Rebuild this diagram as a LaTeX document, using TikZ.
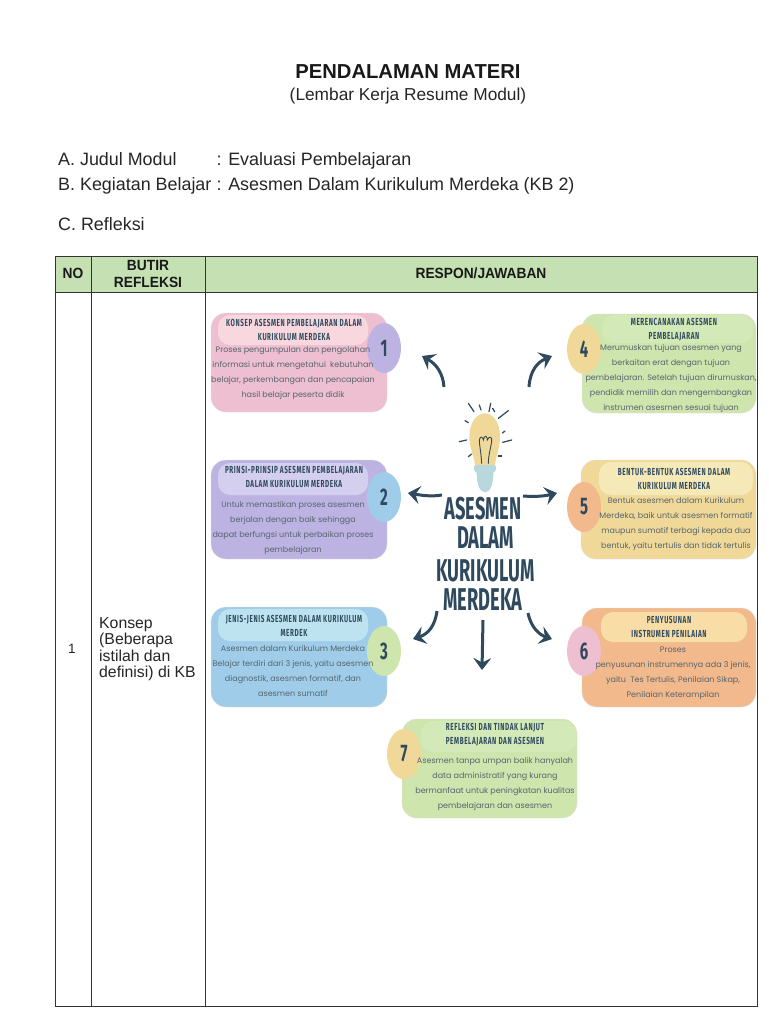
\documentclass[tikz,border=0pt]{standalone}
\usepackage{fontspec}
\setmainfont{Liberation Sans}
\newfontfamily\bodyf{Poppins}
\newfontfamily\headf[FakeStretch=0.62,LetterSpace=6]{Fira Sans}
\newfontfamily\numf[FakeStretch=0.62]{Fira Sans}
\newfontfamily\bigf[FakeStretch=0.58]{Fira Sans}
\newfontfamily\thf[FakeStretch=0.93]{Liberation Sans}
\usetikzlibrary{shapes.geometric,arrows.meta}
\definecolor{ink}{HTML}{2F4A5E}
\definecolor{grey}{HTML}{56656E}
\definecolor{tablegreen}{HTML}{C5E0B3}
\definecolor{pinkb}{HTML}{EDBFD0}
\definecolor{pinki}{HTML}{F8D8DE}
\definecolor{purpb}{HTML}{BDB3E2}
\definecolor{purpi}{HTML}{D4CFEE}
\definecolor{blueb}{HTML}{9FCDE9}
\definecolor{bluei}{HTML}{BDE3F0}
\definecolor{greenb}{HTML}{CFE5AE}
\definecolor{greeni}{HTML}{D4E9B8}
\definecolor{yelb}{HTML}{F0D998}
\definecolor{yeli}{HTML}{F6E9B8}
\definecolor{orab}{HTML}{F2B98C}
\definecolor{orai}{HTML}{F8DDA6}
\definecolor{sky}{HTML}{B9D8DC}
\tikzset{
  page/.style={font=\fontsize{17.9}{20}\selectfont,anchor=base west,inner sep=0pt,text=black!85},
  thcell/.style={font=\thf\bfseries\fontsize{14.8}{16.7}\selectfont,align=center,inner sep=0pt,text=black!90},
  grid/.style={draw=black!80,line width=0.9pt},
  cardbox/.style={rounded corners=15pt,inner sep=0pt,draw=black!12,line width=0.4pt},
  cardhead/.style={rounded corners=12pt,inner sep=0pt},
  numdot/.style={ellipse,inner sep=0pt,minimum width=34pt,minimum height=50pt,text=ink,font=\numf\bfseries\fontsize{24}{24}\selectfont},
  headtxt/.style={align=center,inner sep=0pt,text=ink,font=\headf\bfseries\fontsize{10.2}{14}\selectfont},
  bodytxt/.style={align=center,inner sep=0pt,text=grey,font=\bodyf\fontsize{8}{15}\selectfont},
  bigtxt/.style={inner sep=0pt,text=ink,font=\bigf\bfseries\fontsize{31.5}{31.5}\selectfont},
  flow/.style={draw=ink,line width=3pt,-{Stealth[length=12pt,width=18pt,inset=4.5pt]}},
  ray/.style={draw=ink,line width=1.25pt,line cap=round}
}
\begin{document}
\begin{tikzpicture}[x=1pt,y=-1pt]
\useasboundingbox (0,0) rectangle (768,1024);
\fill[white] (0,0) rectangle (768,1024);
% header
\node[font=\fontsize{20.2}{22}\selectfont\bfseries,inner sep=0pt,text=black!90] (title) at (408,71.5) {PENDALAMAN MATERI};
\node[font=\fontsize{17.3}{20}\selectfont,inner sep=0pt,text=black!85] (sub) at (408,96) {(Lembar Kerja Resume Modul)};
\node[page] (a1) at (58,166) {A. Judul Modul};
\node[page] (a2) at (216.5,166) {: Evaluasi Pembelajaran};
\node[page] (b1) at (58,191) {B. Kegiatan Belajar};
\node[page] (b2) at (216.5,191) {: Asesmen Dalam Kurikulum Merdeka (KB 2)};
\node[page] (c1) at (58,231) {C. Refleksi};
% table
\fill[tablegreen] (55,256) rectangle (757,292);
\draw[grid] (55,256) rectangle (757,1006);
\draw[grid] (55,292) -- (757,292);
\draw[grid] (91,256) -- (91,1006);
\draw[grid] (205,256) -- (205,1006);
\node[thcell] (thno) at (73,273) {NO};
\node[thcell] (thbutir) at (148,274) {BUTIR\\REFLEKSI};
\node[thcell] (thresp) at (481,273) {RESPON/JAWABAN};
\node[font=\fontsize{13.5}{16}\selectfont,inner sep=0pt,text=black!85] (no1) at (72,649) {1};
\node[font=\fontsize{15.8}{16.4}\selectfont,inner sep=0pt,align=left,anchor=west,text=black!85] (konsep) at (99,649) {Konsep\\(Beberapa\\istilah dan\\definisi) di KB};
% card 1
\path[fill=pinkb,cardbox] (211,313) rectangle (387,412);
\path[fill=pinki,cardhead] (218,315) rectangle (368,345);
\node[numdot,fill=purpb] (n1) at (384,348) {1};
\node[headtxt] (h1) at (294,330) {KONSEP ASESMEN PEMBELAJARAN DALAM\\KURIKULUM MERDEKA};
\node[bodytxt] (t1) at (293,373.5) {Proses pengumpulan dan pengolahan\\informasi untuk mengetahui\ \ kebutuhan\\belajar, perkembangan dan pencapaian\\hasil belajar peserta didik};
% card 2
\path[fill=purpb,cardbox] (211,460) rectangle (387,559);
\path[fill=purpi,cardhead] (218,463) rectangle (368,495);
\node[numdot,fill=blueb] (n2) at (384,497) {2};
\node[headtxt] (h2) at (294,477) {PRINSI-PRINSIP ASESMEN PEMBELAJARAN\\DALAM KURIKULUM MERDEKA};
\node[bodytxt] (t2) at (293,528) {Untuk memastikan proses asesmen\\berjalan dengan baik sehingga\\dapat berfungsi untuk perbaikan proses\\pembelajaran};
% card 3
\path[fill=blueb,cardbox] (211,607) rectangle (387,707);
\path[fill=bluei,cardhead] (218,609) rectangle (368,641);
\node[numdot,fill=greenb] (n3) at (384,651) {3};
\node[headtxt] (h3) at (294,625.5) {JENIS-JENIS ASESMEN DALAM KURIKULUM\\MERDEK};
\node[bodytxt] (t3) at (293,670.5) {Asesmen dalam Kurikulum Merdeka\\Belajar terdiri dari 3 jenis, yaitu asesmen\\diagnostik, asesmen formatif, dan\\asesmen sumatif};
% card 4
\path[fill=greenb,cardbox] (582,314) rectangle (756,413);
\path[fill=greeni,cardhead] (602,315) rectangle (753,343);
\node[numdot,fill=yelb] (n4) at (584,349) {4};
\node[headtxt] (h4) at (674,330) {MERENCANAKAN ASESMEN\\PEMBELAJARAN};
\node[bodytxt] (t4) at (671,378) {Merumuskan tujuan asesmen yang\\berkaitan erat dengan tujuan\\pembelajaran. Setelah tujuan dirumuskan,\\pendidik memilih dan mengembangkan\\instrumen asesmen sesuai tujuan};
% card 5
\path[fill=yelb,cardbox] (581,460) rectangle (756,559);
\path[fill=yeli,cardhead] (599,462) rectangle (753,495);
\node[numdot,fill=orab] (n5) at (584,507) {5};
\node[headtxt] (h5) at (674,479) {BENTUK-BENTUK ASESMEN DALAM\\KURIKULUM MERDEKA};
\node[bodytxt] (t5) at (676,523.5) {Bentuk asesmen dalam Kurikulum\\Merdeka, baik untuk asesmen formatif\\maupun sumatif terbagi kepada dua\\bentuk, yaitu tertulis dan tidak tertulis};
% card 6
\path[fill=orab,cardbox] (582,608) rectangle (756,707);
\path[fill=orai,cardhead] (601,612) rectangle (747,642);
\node[numdot,fill=pinkb] (n6) at (584,651) {6};
\node[headtxt] (h6) at (669,626.5) {PENYUSUNAN\\INSTRUMEN PENILAIAN};
\node[bodytxt] (t6) at (673,673.5) {Proses\\penyusunan instrumennya ada 3 jenis,\\yaitu\ \ Tes Tertulis, Penilaian Sikap,\\Penilaian Keterampilan};
% card 7
\path[fill=greenb,cardbox] (402,719) rectangle (577,818);
\path[fill=greeni,cardhead] (421,721) rectangle (576,752);
\node[numdot,fill=yelb] (n7) at (404,754) {7};
\node[headtxt] (h7) at (495,735) {REFLEKSI DAN TINDAK LANJUT\\PEMBELAJARAN DAN ASESMEN};
\node[bodytxt] (t7) at (495,783.5) {Asesmen tanpa umpan balik hanyalah\\data administratif yang kurang\\bermanfaat untuk peningkatan kualitas\\pembelajaran dan asesmen};
% bulb
\begin{scope}[shift={(400,300)},scale=1/3]
\fill[yelb] (225,497) .. controls (222,465) and (208,445) .. (208,410) .. controls (208,365) and (232,340) .. (255,340) .. controls (278,340) and (300,365) .. (300,410) .. controls (300,445) and (288,465) .. (285,497) -- cycle;
\fill[sky] (228,495) -- (282,495) .. controls (292,497) and (290,515) .. (280,518) .. controls (280,550) and (272,577) .. (255,577) .. controls (238,577) and (230,550) .. (230,518) .. controls (220,515) and (218,497) .. (228,495) -- cycle;
\draw[ray,line width=0.9pt] (245,490) .. controls (243,455) and (238,435) .. (238,420) .. controls (240,405) and (250,412) .. (250,420) .. controls (252,405) and (262,405) .. (262,420) .. controls (268,405) and (278,412) .. (275,425) .. controls (272,445) and (266,460) .. (265,490);
\draw[ray] (205,310) -- (222,335);
\draw[ray] (238,315) -- (243,330);
\draw[ray] (272,310) -- (267,335);
\draw[ray] (278,325) -- (284,335);
\draw[ray] (325,332) -- (295,355);
\draw[ray] (195,362) -- (205,368);
\draw[ray] (178,425) -- (200,420);
\draw[ray] (205,470) -- (215,462);
\draw[ray] (315,393) -- (307,399);
\draw[ray] (335,420) -- (308,427);
\draw[ray] (305,468) -- (295,468);
\end{scope}
% central title
\node[bigtxt] (w1) at (483,508.5) {ASESMEN};
\node[bigtxt] (w2) at (485.5,538) {DALAM};
\node[bigtxt] (w3) at (485.5,571) {KURIKULUM};
\node[bigtxt] (w4) at (483,600) {MERDEKA};
% arrows
\coordinate (s1) at (444,387); \coordinate (e1) at (422,356);
\coordinate (s4) at (529,387); \coordinate (e4) at (552,356);
\coordinate (s2) at (442,495); \coordinate (e2) at (408,493);
\coordinate (s5) at (523,496); \coordinate (e5) at (557,493);
\coordinate (s3) at (437,611); \coordinate (e3) at (413,639);
\coordinate (s0) at (483,620); \coordinate (e0) at (482,670);
\coordinate (s6) at (528,613); \coordinate (e6) at (552,639);
\draw[flow] (s1) .. controls (443,373) and (436,364) .. (e1);
\draw[flow] (s4) .. controls (530,370) and (538,362) .. (e4);
\draw[flow] (s2) .. controls (430,497) and (420,495) .. (e2);
\draw[flow] (s5) .. controls (535,497) and (545,496) .. (e5);
\draw[flow] (s3) .. controls (435,626) and (428,634) .. (e3);
\draw[flow] (s0) -- (e0);
\draw[flow] (s6) .. controls (531,628) and (540,635) .. (e6);
\end{tikzpicture}
\end{document}
